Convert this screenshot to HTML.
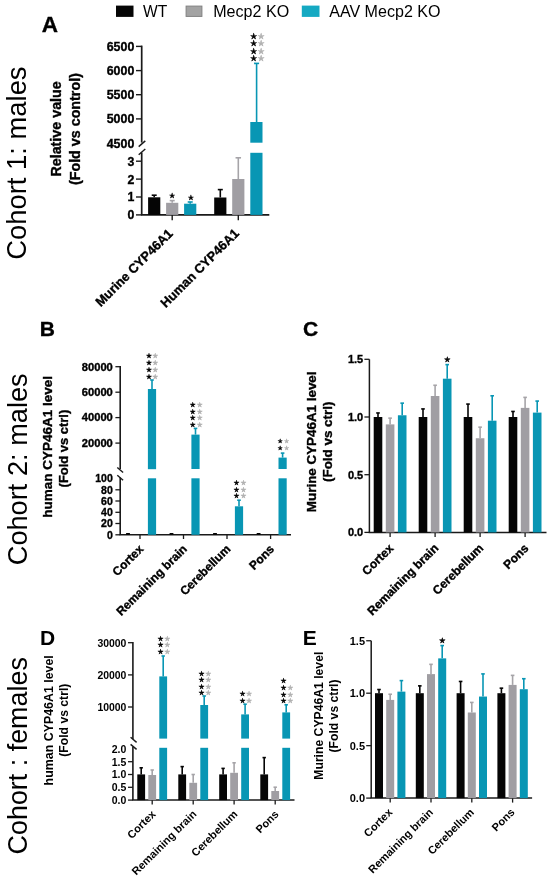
<!DOCTYPE html>
<html><head><meta charset="utf-8"><title>Figure</title>
<style>
html,body{margin:0;padding:0;background:#fff;}
body{width:550px;height:880px;overflow:hidden;}
svg{display:block;font-family:'Liberation Sans', Arial, sans-serif;}
</style></head>
<body>
<svg width="550" height="880" viewBox="0 0 550 880">
<rect width="550" height="880" fill="#fff"/>
<rect x="116.00" y="5.60" width="17.50" height="11.30" fill="#050505"/>
<text x="143.00" y="17.10" font-size="15.6" font-weight="normal" text-anchor="start" fill="#000">WT</text>
<rect x="186.1" y="6.1" width="15.8" height="10.3" fill="#a3a3a3" stroke="#808080" stroke-width="1"/>
<text x="213.20" y="17.10" font-size="15.6" font-weight="normal" text-anchor="start" fill="#000" textLength="76.0" lengthAdjust="spacingAndGlyphs">Mecp2 KO</text>
<rect x="301.80" y="5.60" width="17.70" height="11.30" fill="#15a9c2"/>
<text x="329.20" y="17.10" font-size="15.6" font-weight="normal" text-anchor="start" fill="#000" textLength="111.3" lengthAdjust="spacingAndGlyphs">AAV Mecp2 KO</text>
<text x="0.00" y="0.00" font-size="27.4" font-weight="normal" text-anchor="middle" fill="#000" transform="translate(25.80,163.10) rotate(-90)">Cohort 1: males</text>
<text x="0.00" y="0.00" font-size="27.2" font-weight="normal" text-anchor="middle" fill="#000" transform="translate(26.90,469.30) rotate(-90)">Cohort 2: males</text>
<text x="0.00" y="0.00" font-size="26.9" font-weight="normal" text-anchor="middle" fill="#000" transform="translate(27.40,755.80) rotate(-90)">Cohort : females</text>
<text x="41.80" y="32.00" font-size="22.5" font-weight="bold" text-anchor="start" fill="#000" stroke="#000" stroke-width="0.35">A</text>
<line x1="141.70" y1="45.60" x2="141.70" y2="142.60" stroke="#1a1a1a" stroke-width="1.7"/>
<line x1="136.00" y1="46.40" x2="141.70" y2="46.40" stroke="#1a1a1a" stroke-width="1.4"/>
<text x="134.30" y="50.80" font-size="12.3" font-weight="bold" text-anchor="end" fill="#000" stroke="#000" stroke-width="0.35" textLength="27.6" lengthAdjust="spacingAndGlyphs">6500</text>
<line x1="136.00" y1="70.60" x2="141.70" y2="70.60" stroke="#1a1a1a" stroke-width="1.4"/>
<text x="134.30" y="75.00" font-size="12.3" font-weight="bold" text-anchor="end" fill="#000" stroke="#000" stroke-width="0.35" textLength="27.6" lengthAdjust="spacingAndGlyphs">6000</text>
<line x1="136.00" y1="94.70" x2="141.70" y2="94.70" stroke="#1a1a1a" stroke-width="1.4"/>
<text x="134.30" y="99.10" font-size="12.3" font-weight="bold" text-anchor="end" fill="#000" stroke="#000" stroke-width="0.35" textLength="27.6" lengthAdjust="spacingAndGlyphs">5500</text>
<line x1="136.00" y1="118.90" x2="141.70" y2="118.90" stroke="#1a1a1a" stroke-width="1.4"/>
<text x="134.30" y="123.30" font-size="12.3" font-weight="bold" text-anchor="end" fill="#000" stroke="#000" stroke-width="0.35" textLength="27.6" lengthAdjust="spacingAndGlyphs">5000</text>
<text x="134.30" y="148.00" font-size="12.3" font-weight="bold" text-anchor="end" fill="#000" stroke="#000" stroke-width="0.35" textLength="27.6" lengthAdjust="spacingAndGlyphs">4500</text>
<line x1="138.70" y1="146.60" x2="145.30" y2="140.90" stroke="#1a1a1a" stroke-width="1.4"/>
<line x1="138.70" y1="154.70" x2="145.30" y2="149.00" stroke="#1a1a1a" stroke-width="1.4"/>
<line x1="141.70" y1="152.60" x2="141.70" y2="215.00" stroke="#1a1a1a" stroke-width="1.7"/>
<line x1="136.00" y1="161.20" x2="141.70" y2="161.20" stroke="#1a1a1a" stroke-width="1.4"/>
<text x="134.30" y="165.60" font-size="12.3" font-weight="bold" text-anchor="end" fill="#000" stroke="#000" stroke-width="0.35">3</text>
<line x1="136.00" y1="179.10" x2="141.70" y2="179.10" stroke="#1a1a1a" stroke-width="1.4"/>
<text x="134.30" y="183.50" font-size="12.3" font-weight="bold" text-anchor="end" fill="#000" stroke="#000" stroke-width="0.35">2</text>
<line x1="136.00" y1="197.00" x2="141.70" y2="197.00" stroke="#1a1a1a" stroke-width="1.4"/>
<text x="134.30" y="201.40" font-size="12.3" font-weight="bold" text-anchor="end" fill="#000" stroke="#000" stroke-width="0.35">1</text>
<line x1="136.00" y1="214.90" x2="141.70" y2="214.90" stroke="#1a1a1a" stroke-width="1.4"/>
<text x="134.30" y="219.30" font-size="12.3" font-weight="bold" text-anchor="end" fill="#000" stroke="#000" stroke-width="0.35">0</text>
<line x1="140.90" y1="214.90" x2="269.30" y2="214.90" stroke="#1a1a1a" stroke-width="1.6"/>
<line x1="172.20" y1="214.90" x2="172.20" y2="220.30" stroke="#1a1a1a" stroke-width="1.4"/>
<line x1="238.30" y1="214.90" x2="238.30" y2="220.30" stroke="#1a1a1a" stroke-width="1.4"/>
<rect x="148.10" y="197.30" width="12.20" height="17.60" fill="#050505"/>
<line x1="154.20" y1="197.30" x2="154.20" y2="195.20" stroke="#050505" stroke-width="1.6"/>
<line x1="151.70" y1="195.20" x2="156.70" y2="195.20" stroke="#050505" stroke-width="1.6"/>
<rect x="166.10" y="202.80" width="12.20" height="12.10" fill="#a09ea3"/>
<line x1="172.20" y1="202.80" x2="172.20" y2="200.60" stroke="#a6a4a8" stroke-width="1.6"/>
<line x1="169.70" y1="200.60" x2="174.70" y2="200.60" stroke="#a6a4a8" stroke-width="1.6"/>
<rect x="184.10" y="203.70" width="12.20" height="11.20" fill="#0896b4"/>
<line x1="190.20" y1="203.70" x2="190.20" y2="202.00" stroke="#0896b4" stroke-width="1.6"/>
<line x1="187.70" y1="202.00" x2="192.70" y2="202.00" stroke="#0896b4" stroke-width="1.6"/>
<text x="172.20" y="197.92" font-size="7.03" text-anchor="middle" fill="#050505" stroke="#050505" stroke-width="0.42" stroke-linejoin="round" font-family="DejaVu Sans, sans-serif">&#9733;</text>
<text x="190.90" y="200.22" font-size="7.03" text-anchor="middle" fill="#050505" stroke="#050505" stroke-width="0.42" stroke-linejoin="round" font-family="DejaVu Sans, sans-serif">&#9733;</text>
<rect x="214.20" y="197.50" width="12.20" height="17.40" fill="#050505"/>
<line x1="220.30" y1="197.50" x2="220.30" y2="189.60" stroke="#050505" stroke-width="1.6"/>
<line x1="217.80" y1="189.60" x2="222.80" y2="189.60" stroke="#050505" stroke-width="1.6"/>
<rect x="232.20" y="179.00" width="12.20" height="35.90" fill="#a09ea3"/>
<line x1="238.30" y1="179.00" x2="238.30" y2="157.80" stroke="#a6a4a8" stroke-width="1.6"/>
<line x1="235.55" y1="157.80" x2="241.05" y2="157.80" stroke="#a6a4a8" stroke-width="1.6"/>
<rect x="250.30" y="152.80" width="12.20" height="62.10" fill="#0896b4"/>
<rect x="250.30" y="122.00" width="12.20" height="20.70" fill="#0896b4"/>
<line x1="256.60" y1="122.00" x2="256.60" y2="63.40" stroke="#0896b4" stroke-width="1.6"/>
<line x1="254.10" y1="63.40" x2="259.10" y2="63.40" stroke="#0896b4" stroke-width="1.6"/>
<text x="261.20" y="38.91" font-size="8.14" text-anchor="middle" fill="#b2b2b2" stroke="#b2b2b2" stroke-width="0.49" stroke-linejoin="round" font-family="DejaVu Sans, sans-serif">&#9733;</text>
<text x="253.70" y="38.91" font-size="8.14" text-anchor="middle" fill="#050505" stroke="#050505" stroke-width="0.49" stroke-linejoin="round" font-family="DejaVu Sans, sans-serif">&#9733;</text>
<text x="261.20" y="46.41" font-size="8.14" text-anchor="middle" fill="#b2b2b2" stroke="#b2b2b2" stroke-width="0.49" stroke-linejoin="round" font-family="DejaVu Sans, sans-serif">&#9733;</text>
<text x="253.70" y="46.41" font-size="8.14" text-anchor="middle" fill="#050505" stroke="#050505" stroke-width="0.49" stroke-linejoin="round" font-family="DejaVu Sans, sans-serif">&#9733;</text>
<text x="261.20" y="53.91" font-size="8.14" text-anchor="middle" fill="#b2b2b2" stroke="#b2b2b2" stroke-width="0.49" stroke-linejoin="round" font-family="DejaVu Sans, sans-serif">&#9733;</text>
<text x="253.70" y="53.91" font-size="8.14" text-anchor="middle" fill="#050505" stroke="#050505" stroke-width="0.49" stroke-linejoin="round" font-family="DejaVu Sans, sans-serif">&#9733;</text>
<text x="261.20" y="61.31" font-size="8.14" text-anchor="middle" fill="#b2b2b2" stroke="#b2b2b2" stroke-width="0.49" stroke-linejoin="round" font-family="DejaVu Sans, sans-serif">&#9733;</text>
<text x="253.70" y="61.31" font-size="8.14" text-anchor="middle" fill="#050505" stroke="#050505" stroke-width="0.49" stroke-linejoin="round" font-family="DejaVu Sans, sans-serif">&#9733;</text>
<text x="0.00" y="0.00" font-size="14.3" font-weight="bold" text-anchor="middle" fill="#000" stroke="#000" stroke-width="0.35" transform="translate(61.20,128.90) rotate(-90)">Relative value</text>
<text x="0.00" y="0.00" font-size="14.3" font-weight="bold" text-anchor="middle" fill="#000" stroke="#000" stroke-width="0.35" transform="translate(80.00,129.10) rotate(-90)">(Fold vs control)</text>
<text x="0.00" y="0.00" font-size="12.9" font-weight="bold" text-anchor="end" fill="#000" stroke="#000" stroke-width="0.35" transform="translate(173.70,234.30) rotate(-45)">Murine CYP46A1</text>
<text x="0.00" y="0.00" font-size="12.9" font-weight="bold" text-anchor="end" fill="#000" stroke="#000" stroke-width="0.35" transform="translate(239.80,234.30) rotate(-45)">Human CYP46A1</text>
<text x="39.80" y="336.00" font-size="21" font-weight="bold" text-anchor="start" fill="#000" stroke="#000" stroke-width="0.35">B</text>
<line x1="120.20" y1="365.90" x2="120.20" y2="469.00" stroke="#1a1a1a" stroke-width="1.6"/>
<line x1="115.40" y1="366.70" x2="120.20" y2="366.70" stroke="#1a1a1a" stroke-width="1.3"/>
<text x="112.80" y="370.50" font-size="10.5" font-weight="bold" text-anchor="end" fill="#000" stroke="#000" stroke-width="0.35" textLength="31" lengthAdjust="spacingAndGlyphs">80000</text>
<line x1="115.40" y1="392.20" x2="120.20" y2="392.20" stroke="#1a1a1a" stroke-width="1.3"/>
<text x="112.80" y="396.00" font-size="10.5" font-weight="bold" text-anchor="end" fill="#000" stroke="#000" stroke-width="0.35" textLength="31" lengthAdjust="spacingAndGlyphs">60000</text>
<line x1="115.40" y1="417.60" x2="120.20" y2="417.60" stroke="#1a1a1a" stroke-width="1.3"/>
<text x="112.80" y="421.40" font-size="10.5" font-weight="bold" text-anchor="end" fill="#000" stroke="#000" stroke-width="0.35" textLength="31" lengthAdjust="spacingAndGlyphs">40000</text>
<line x1="115.40" y1="443.10" x2="120.20" y2="443.10" stroke="#1a1a1a" stroke-width="1.3"/>
<text x="112.80" y="446.90" font-size="10.5" font-weight="bold" text-anchor="end" fill="#000" stroke="#000" stroke-width="0.35" textLength="31" lengthAdjust="spacingAndGlyphs">20000</text>
<line x1="117.30" y1="467.40" x2="123.10" y2="472.60" stroke="#1a1a1a" stroke-width="1.4"/>
<line x1="117.30" y1="475.20" x2="123.10" y2="480.20" stroke="#1a1a1a" stroke-width="1.4"/>
<line x1="120.20" y1="477.60" x2="120.20" y2="534.90" stroke="#1a1a1a" stroke-width="1.6"/>
<text x="112.80" y="482.30" font-size="10.5" font-weight="bold" text-anchor="end" fill="#000" stroke="#000" stroke-width="0.35">100</text>
<line x1="115.40" y1="489.80" x2="120.20" y2="489.80" stroke="#1a1a1a" stroke-width="1.3"/>
<text x="112.80" y="493.60" font-size="10.5" font-weight="bold" text-anchor="end" fill="#000" stroke="#000" stroke-width="0.35">80</text>
<line x1="115.40" y1="501.00" x2="120.20" y2="501.00" stroke="#1a1a1a" stroke-width="1.3"/>
<text x="112.80" y="504.80" font-size="10.5" font-weight="bold" text-anchor="end" fill="#000" stroke="#000" stroke-width="0.35">60</text>
<line x1="115.40" y1="512.30" x2="120.20" y2="512.30" stroke="#1a1a1a" stroke-width="1.3"/>
<text x="112.80" y="516.10" font-size="10.5" font-weight="bold" text-anchor="end" fill="#000" stroke="#000" stroke-width="0.35">40</text>
<line x1="115.40" y1="523.50" x2="120.20" y2="523.50" stroke="#1a1a1a" stroke-width="1.3"/>
<text x="112.80" y="527.30" font-size="10.5" font-weight="bold" text-anchor="end" fill="#000" stroke="#000" stroke-width="0.35">20</text>
<line x1="115.40" y1="534.80" x2="120.20" y2="534.80" stroke="#1a1a1a" stroke-width="1.3"/>
<text x="112.80" y="538.60" font-size="10.5" font-weight="bold" text-anchor="end" fill="#000" stroke="#000" stroke-width="0.35">0</text>
<line x1="119.50" y1="534.80" x2="291.00" y2="534.80" stroke="#1a1a1a" stroke-width="1.5"/>
<line x1="140.00" y1="534.80" x2="140.00" y2="539.00" stroke="#1a1a1a" stroke-width="1.3"/>
<line x1="183.50" y1="534.80" x2="183.50" y2="539.00" stroke="#1a1a1a" stroke-width="1.3"/>
<line x1="227.00" y1="534.80" x2="227.00" y2="539.00" stroke="#1a1a1a" stroke-width="1.3"/>
<line x1="270.60" y1="534.80" x2="270.60" y2="539.00" stroke="#1a1a1a" stroke-width="1.3"/>
<rect x="126.10" y="533.00" width="3.80" height="1.80" fill="#050505"/>
<rect x="169.60" y="533.00" width="3.80" height="1.80" fill="#050505"/>
<rect x="213.10" y="533.00" width="3.80" height="1.80" fill="#050505"/>
<rect x="256.70" y="533.00" width="3.80" height="1.80" fill="#050505"/>
<rect x="147.90" y="478.30" width="8.20" height="56.50" fill="#0896b4"/>
<rect x="147.90" y="389.00" width="8.20" height="80.20" fill="#0896b4"/>
<line x1="152.00" y1="389.00" x2="152.00" y2="380.00" stroke="#0896b4" stroke-width="1.6"/>
<line x1="150.20" y1="380.00" x2="153.80" y2="380.00" stroke="#0896b4" stroke-width="1.6"/>
<text x="155.20" y="358.28" font-size="6.66" text-anchor="middle" fill="#b2b2b2" stroke="#b2b2b2" stroke-width="0.40" stroke-linejoin="round" font-family="DejaVu Sans, sans-serif">&#9733;</text>
<text x="149.10" y="358.28" font-size="6.66" text-anchor="middle" fill="#050505" stroke="#050505" stroke-width="0.40" stroke-linejoin="round" font-family="DejaVu Sans, sans-serif">&#9733;</text>
<text x="155.20" y="365.18" font-size="6.66" text-anchor="middle" fill="#b2b2b2" stroke="#b2b2b2" stroke-width="0.40" stroke-linejoin="round" font-family="DejaVu Sans, sans-serif">&#9733;</text>
<text x="149.10" y="365.18" font-size="6.66" text-anchor="middle" fill="#050505" stroke="#050505" stroke-width="0.40" stroke-linejoin="round" font-family="DejaVu Sans, sans-serif">&#9733;</text>
<text x="155.20" y="372.18" font-size="6.66" text-anchor="middle" fill="#b2b2b2" stroke="#b2b2b2" stroke-width="0.40" stroke-linejoin="round" font-family="DejaVu Sans, sans-serif">&#9733;</text>
<text x="149.10" y="372.18" font-size="6.66" text-anchor="middle" fill="#050505" stroke="#050505" stroke-width="0.40" stroke-linejoin="round" font-family="DejaVu Sans, sans-serif">&#9733;</text>
<text x="155.20" y="379.08" font-size="6.66" text-anchor="middle" fill="#b2b2b2" stroke="#b2b2b2" stroke-width="0.40" stroke-linejoin="round" font-family="DejaVu Sans, sans-serif">&#9733;</text>
<text x="149.10" y="379.08" font-size="6.66" text-anchor="middle" fill="#050505" stroke="#050505" stroke-width="0.40" stroke-linejoin="round" font-family="DejaVu Sans, sans-serif">&#9733;</text>
<rect x="191.40" y="478.30" width="8.20" height="56.50" fill="#0896b4"/>
<rect x="191.40" y="434.60" width="8.20" height="34.40" fill="#0896b4"/>
<line x1="195.50" y1="434.60" x2="195.50" y2="428.40" stroke="#0896b4" stroke-width="1.6"/>
<line x1="193.70" y1="428.40" x2="197.30" y2="428.40" stroke="#0896b4" stroke-width="1.6"/>
<text x="199.80" y="406.68" font-size="6.66" text-anchor="middle" fill="#b2b2b2" stroke="#b2b2b2" stroke-width="0.40" stroke-linejoin="round" font-family="DejaVu Sans, sans-serif">&#9733;</text>
<text x="192.80" y="406.68" font-size="6.66" text-anchor="middle" fill="#050505" stroke="#050505" stroke-width="0.40" stroke-linejoin="round" font-family="DejaVu Sans, sans-serif">&#9733;</text>
<text x="199.80" y="413.58" font-size="6.66" text-anchor="middle" fill="#b2b2b2" stroke="#b2b2b2" stroke-width="0.40" stroke-linejoin="round" font-family="DejaVu Sans, sans-serif">&#9733;</text>
<text x="192.80" y="413.58" font-size="6.66" text-anchor="middle" fill="#050505" stroke="#050505" stroke-width="0.40" stroke-linejoin="round" font-family="DejaVu Sans, sans-serif">&#9733;</text>
<text x="199.80" y="420.18" font-size="6.66" text-anchor="middle" fill="#b2b2b2" stroke="#b2b2b2" stroke-width="0.40" stroke-linejoin="round" font-family="DejaVu Sans, sans-serif">&#9733;</text>
<text x="192.80" y="420.18" font-size="6.66" text-anchor="middle" fill="#050505" stroke="#050505" stroke-width="0.40" stroke-linejoin="round" font-family="DejaVu Sans, sans-serif">&#9733;</text>
<text x="199.80" y="426.98" font-size="6.66" text-anchor="middle" fill="#b2b2b2" stroke="#b2b2b2" stroke-width="0.40" stroke-linejoin="round" font-family="DejaVu Sans, sans-serif">&#9733;</text>
<text x="192.80" y="426.98" font-size="6.66" text-anchor="middle" fill="#050505" stroke="#050505" stroke-width="0.40" stroke-linejoin="round" font-family="DejaVu Sans, sans-serif">&#9733;</text>
<rect x="234.90" y="506.30" width="8.20" height="28.50" fill="#0896b4"/>
<line x1="239.00" y1="506.30" x2="239.00" y2="500.20" stroke="#0896b4" stroke-width="1.6"/>
<line x1="237.20" y1="500.20" x2="240.80" y2="500.20" stroke="#0896b4" stroke-width="1.6"/>
<text x="243.60" y="484.98" font-size="6.66" text-anchor="middle" fill="#b2b2b2" stroke="#b2b2b2" stroke-width="0.40" stroke-linejoin="round" font-family="DejaVu Sans, sans-serif">&#9733;</text>
<text x="236.60" y="484.98" font-size="6.66" text-anchor="middle" fill="#050505" stroke="#050505" stroke-width="0.40" stroke-linejoin="round" font-family="DejaVu Sans, sans-serif">&#9733;</text>
<text x="243.60" y="491.58" font-size="6.66" text-anchor="middle" fill="#b2b2b2" stroke="#b2b2b2" stroke-width="0.40" stroke-linejoin="round" font-family="DejaVu Sans, sans-serif">&#9733;</text>
<text x="236.60" y="491.58" font-size="6.66" text-anchor="middle" fill="#050505" stroke="#050505" stroke-width="0.40" stroke-linejoin="round" font-family="DejaVu Sans, sans-serif">&#9733;</text>
<text x="243.60" y="498.38" font-size="6.66" text-anchor="middle" fill="#b2b2b2" stroke="#b2b2b2" stroke-width="0.40" stroke-linejoin="round" font-family="DejaVu Sans, sans-serif">&#9733;</text>
<text x="236.60" y="498.38" font-size="6.66" text-anchor="middle" fill="#050505" stroke="#050505" stroke-width="0.40" stroke-linejoin="round" font-family="DejaVu Sans, sans-serif">&#9733;</text>
<rect x="278.50" y="478.30" width="8.20" height="56.50" fill="#0896b4"/>
<rect x="278.50" y="457.60" width="8.20" height="11.40" fill="#0896b4"/>
<line x1="282.60" y1="457.60" x2="282.60" y2="453.10" stroke="#0896b4" stroke-width="1.6"/>
<line x1="280.80" y1="453.10" x2="284.40" y2="453.10" stroke="#0896b4" stroke-width="1.6"/>
<text x="286.60" y="443.12" font-size="5.92" text-anchor="middle" fill="#b2b2b2" stroke="#b2b2b2" stroke-width="0.36" stroke-linejoin="round" font-family="DejaVu Sans, sans-serif">&#9733;</text>
<text x="280.20" y="443.12" font-size="5.92" text-anchor="middle" fill="#050505" stroke="#050505" stroke-width="0.36" stroke-linejoin="round" font-family="DejaVu Sans, sans-serif">&#9733;</text>
<text x="286.60" y="450.42" font-size="5.92" text-anchor="middle" fill="#b2b2b2" stroke="#b2b2b2" stroke-width="0.36" stroke-linejoin="round" font-family="DejaVu Sans, sans-serif">&#9733;</text>
<text x="280.20" y="450.42" font-size="5.92" text-anchor="middle" fill="#050505" stroke="#050505" stroke-width="0.36" stroke-linejoin="round" font-family="DejaVu Sans, sans-serif">&#9733;</text>
<text x="0.00" y="0.00" font-size="13.5" font-weight="bold" text-anchor="middle" fill="#000" stroke="#000" stroke-width="0.35" transform="translate(51.90,446.90) rotate(-90)">human CYP46A1 level</text>
<text x="0.00" y="0.00" font-size="12.95" font-weight="bold" text-anchor="middle" fill="#000" stroke="#000" stroke-width="0.35" transform="translate(68.30,448.60) rotate(-90)">(Fold vs ctrl)</text>
<text x="0.00" y="0.00" font-size="12.0" font-weight="bold" text-anchor="end" fill="#000" stroke="#000" stroke-width="0.35" transform="translate(144.20,549.80) rotate(-45)">Cortex</text>
<text x="0.00" y="0.00" font-size="12.0" font-weight="bold" text-anchor="end" fill="#000" stroke="#000" stroke-width="0.35" transform="translate(187.70,549.80) rotate(-45)">Remaining brain</text>
<text x="0.00" y="0.00" font-size="12.0" font-weight="bold" text-anchor="end" fill="#000" stroke="#000" stroke-width="0.35" transform="translate(231.20,549.80) rotate(-45)">Cerebellum</text>
<text x="0.00" y="0.00" font-size="12.0" font-weight="bold" text-anchor="end" fill="#000" stroke="#000" stroke-width="0.35" transform="translate(274.80,549.80) rotate(-45)">Pons</text>
<text x="302.90" y="336.00" font-size="21" font-weight="bold" text-anchor="start" fill="#000" stroke="#000" stroke-width="0.35">C</text>
<line x1="369.40" y1="359.30" x2="369.40" y2="532.40" stroke="#1a1a1a" stroke-width="1.5"/>
<line x1="364.40" y1="532.40" x2="369.40" y2="532.40" stroke="#1a1a1a" stroke-width="1.3"/>
<text x="363.20" y="536.30" font-size="11.0" font-weight="bold" text-anchor="end" fill="#000" stroke="#000" stroke-width="0.35">0.0</text>
<line x1="364.40" y1="474.70" x2="369.40" y2="474.70" stroke="#1a1a1a" stroke-width="1.3"/>
<text x="363.20" y="478.60" font-size="11.0" font-weight="bold" text-anchor="end" fill="#000" stroke="#000" stroke-width="0.35">0.5</text>
<line x1="364.40" y1="417.00" x2="369.40" y2="417.00" stroke="#1a1a1a" stroke-width="1.3"/>
<text x="363.20" y="420.90" font-size="11.0" font-weight="bold" text-anchor="end" fill="#000" stroke="#000" stroke-width="0.35">1.0</text>
<line x1="364.40" y1="359.30" x2="369.40" y2="359.30" stroke="#1a1a1a" stroke-width="1.3"/>
<text x="363.20" y="363.20" font-size="11.0" font-weight="bold" text-anchor="end" fill="#000" stroke="#000" stroke-width="0.35">1.5</text>
<line x1="368.70" y1="532.40" x2="546.50" y2="532.40" stroke="#1a1a1a" stroke-width="1.5"/>
<line x1="390.10" y1="532.40" x2="390.10" y2="536.90" stroke="#1a1a1a" stroke-width="1.3"/>
<rect x="373.70" y="417.00" width="8.60" height="115.40" fill="#050505"/>
<line x1="378.00" y1="417.00" x2="378.00" y2="412.96" stroke="#050505" stroke-width="1.6"/>
<line x1="376.20" y1="412.96" x2="379.80" y2="412.96" stroke="#050505" stroke-width="1.6"/>
<rect x="385.80" y="424.39" width="8.60" height="108.01" fill="#a09ea3"/>
<line x1="390.10" y1="424.39" x2="390.10" y2="418.15" stroke="#a6a4a8" stroke-width="1.6"/>
<line x1="388.30" y1="418.15" x2="391.90" y2="418.15" stroke="#a6a4a8" stroke-width="1.6"/>
<rect x="397.90" y="415.27" width="8.60" height="117.13" fill="#0896b4"/>
<line x1="402.20" y1="415.27" x2="402.20" y2="403.15" stroke="#0896b4" stroke-width="1.6"/>
<line x1="400.40" y1="403.15" x2="404.00" y2="403.15" stroke="#0896b4" stroke-width="1.6"/>
<line x1="435.10" y1="532.40" x2="435.10" y2="536.90" stroke="#1a1a1a" stroke-width="1.3"/>
<rect x="418.70" y="417.00" width="8.60" height="115.40" fill="#050505"/>
<line x1="423.00" y1="417.00" x2="423.00" y2="408.92" stroke="#050505" stroke-width="1.6"/>
<line x1="421.20" y1="408.92" x2="424.80" y2="408.92" stroke="#050505" stroke-width="1.6"/>
<rect x="430.80" y="396.00" width="8.60" height="136.40" fill="#a09ea3"/>
<line x1="435.10" y1="396.00" x2="435.10" y2="385.26" stroke="#a6a4a8" stroke-width="1.6"/>
<line x1="433.30" y1="385.26" x2="436.90" y2="385.26" stroke="#a6a4a8" stroke-width="1.6"/>
<rect x="442.90" y="378.69" width="8.60" height="153.71" fill="#0896b4"/>
<line x1="447.20" y1="378.69" x2="447.20" y2="364.61" stroke="#0896b4" stroke-width="1.6"/>
<line x1="445.40" y1="364.61" x2="449.00" y2="364.61" stroke="#0896b4" stroke-width="1.6"/>
<line x1="480.10" y1="532.40" x2="480.10" y2="536.90" stroke="#1a1a1a" stroke-width="1.3"/>
<rect x="463.70" y="417.00" width="8.60" height="115.40" fill="#050505"/>
<line x1="468.00" y1="417.00" x2="468.00" y2="404.08" stroke="#050505" stroke-width="1.6"/>
<line x1="466.20" y1="404.08" x2="469.80" y2="404.08" stroke="#050505" stroke-width="1.6"/>
<rect x="475.80" y="438.23" width="8.60" height="94.17" fill="#a09ea3"/>
<line x1="480.10" y1="438.23" x2="480.10" y2="427.16" stroke="#a6a4a8" stroke-width="1.6"/>
<line x1="478.30" y1="427.16" x2="481.90" y2="427.16" stroke="#a6a4a8" stroke-width="1.6"/>
<rect x="487.90" y="420.69" width="8.60" height="111.71" fill="#0896b4"/>
<line x1="492.20" y1="420.69" x2="492.20" y2="395.77" stroke="#0896b4" stroke-width="1.6"/>
<line x1="490.40" y1="395.77" x2="494.00" y2="395.77" stroke="#0896b4" stroke-width="1.6"/>
<line x1="525.10" y1="532.40" x2="525.10" y2="536.90" stroke="#1a1a1a" stroke-width="1.3"/>
<rect x="508.70" y="417.00" width="8.60" height="115.40" fill="#050505"/>
<line x1="513.00" y1="417.00" x2="513.00" y2="411.46" stroke="#050505" stroke-width="1.6"/>
<line x1="511.20" y1="411.46" x2="514.80" y2="411.46" stroke="#050505" stroke-width="1.6"/>
<rect x="520.80" y="407.88" width="8.60" height="124.52" fill="#a09ea3"/>
<line x1="525.10" y1="407.88" x2="525.10" y2="397.38" stroke="#a6a4a8" stroke-width="1.6"/>
<line x1="523.30" y1="397.38" x2="526.90" y2="397.38" stroke="#a6a4a8" stroke-width="1.6"/>
<rect x="532.90" y="412.61" width="8.60" height="119.79" fill="#0896b4"/>
<line x1="537.20" y1="412.61" x2="537.20" y2="401.07" stroke="#0896b4" stroke-width="1.6"/>
<line x1="535.40" y1="401.07" x2="539.00" y2="401.07" stroke="#0896b4" stroke-width="1.6"/>
<text x="447.20" y="361.60" font-size="7.40" text-anchor="middle" fill="#050505" stroke="#050505" stroke-width="0.44" stroke-linejoin="round" font-family="DejaVu Sans, sans-serif">&#9733;</text>
<text x="0.00" y="0.00" font-size="13.4" font-weight="bold" text-anchor="middle" fill="#000" stroke="#000" stroke-width="0.35" transform="translate(316.40,441.80) rotate(-90)">Murine CYP46A1 level</text>
<text x="0.00" y="0.00" font-size="13.4" font-weight="bold" text-anchor="middle" fill="#000" stroke="#000" stroke-width="0.35" transform="translate(332.30,441.80) rotate(-90)">(Fold vs ctrl)</text>
<text x="0.00" y="0.00" font-size="12.1" font-weight="bold" text-anchor="end" fill="#000" stroke="#000" stroke-width="0.35" transform="translate(394.20,548.90) rotate(-45)">Cortex</text>
<text x="0.00" y="0.00" font-size="12.1" font-weight="bold" text-anchor="end" fill="#000" stroke="#000" stroke-width="0.35" transform="translate(439.20,548.90) rotate(-45)">Remaining brain</text>
<text x="0.00" y="0.00" font-size="12.1" font-weight="bold" text-anchor="end" fill="#000" stroke="#000" stroke-width="0.35" transform="translate(484.20,548.90) rotate(-45)">Cerebellum</text>
<text x="0.00" y="0.00" font-size="12.1" font-weight="bold" text-anchor="end" fill="#000" stroke="#000" stroke-width="0.35" transform="translate(529.20,548.90) rotate(-45)">Pons</text>
<text x="302.80" y="644.50" font-size="21" font-weight="bold" text-anchor="start" fill="#000">E</text>
<line x1="371.20" y1="640.75" x2="371.20" y2="798.10" stroke="#1a1a1a" stroke-width="1.5"/>
<line x1="366.20" y1="798.10" x2="371.20" y2="798.10" stroke="#1a1a1a" stroke-width="1.3"/>
<text x="365.00" y="802.00" font-size="11.0" font-weight="bold" text-anchor="end" fill="#000">0.0</text>
<line x1="366.20" y1="745.65" x2="371.20" y2="745.65" stroke="#1a1a1a" stroke-width="1.3"/>
<text x="365.00" y="749.55" font-size="11.0" font-weight="bold" text-anchor="end" fill="#000">0.5</text>
<line x1="366.20" y1="693.20" x2="371.20" y2="693.20" stroke="#1a1a1a" stroke-width="1.3"/>
<text x="365.00" y="697.10" font-size="11.0" font-weight="bold" text-anchor="end" fill="#000">1.0</text>
<line x1="366.20" y1="640.75" x2="371.20" y2="640.75" stroke="#1a1a1a" stroke-width="1.3"/>
<text x="365.00" y="644.65" font-size="11.0" font-weight="bold" text-anchor="end" fill="#000">1.5</text>
<line x1="370.50" y1="798.10" x2="532.10" y2="798.10" stroke="#1a1a1a" stroke-width="1.5"/>
<line x1="390.20" y1="798.10" x2="390.20" y2="802.60" stroke="#1a1a1a" stroke-width="1.3"/>
<rect x="375.00" y="693.20" width="8.00" height="104.90" fill="#050505"/>
<line x1="379.00" y1="693.20" x2="379.00" y2="689.53" stroke="#050505" stroke-width="1.6"/>
<line x1="377.20" y1="689.53" x2="380.80" y2="689.53" stroke="#050505" stroke-width="1.6"/>
<rect x="386.20" y="699.91" width="8.00" height="98.19" fill="#a09ea3"/>
<line x1="390.20" y1="699.91" x2="390.20" y2="694.25" stroke="#a6a4a8" stroke-width="1.6"/>
<line x1="388.40" y1="694.25" x2="392.00" y2="694.25" stroke="#a6a4a8" stroke-width="1.6"/>
<rect x="397.40" y="691.63" width="8.00" height="106.47" fill="#0896b4"/>
<line x1="401.40" y1="691.63" x2="401.40" y2="680.61" stroke="#0896b4" stroke-width="1.6"/>
<line x1="399.60" y1="680.61" x2="403.20" y2="680.61" stroke="#0896b4" stroke-width="1.6"/>
<line x1="431.00" y1="798.10" x2="431.00" y2="802.60" stroke="#1a1a1a" stroke-width="1.3"/>
<rect x="415.80" y="693.20" width="8.00" height="104.90" fill="#050505"/>
<line x1="419.80" y1="693.20" x2="419.80" y2="685.86" stroke="#050505" stroke-width="1.6"/>
<line x1="418.00" y1="685.86" x2="421.60" y2="685.86" stroke="#050505" stroke-width="1.6"/>
<rect x="427.00" y="674.11" width="8.00" height="123.99" fill="#a09ea3"/>
<line x1="431.00" y1="674.11" x2="431.00" y2="664.35" stroke="#a6a4a8" stroke-width="1.6"/>
<line x1="429.20" y1="664.35" x2="432.80" y2="664.35" stroke="#a6a4a8" stroke-width="1.6"/>
<rect x="438.20" y="658.37" width="8.00" height="139.73" fill="#0896b4"/>
<line x1="442.20" y1="658.37" x2="442.20" y2="645.58" stroke="#0896b4" stroke-width="1.6"/>
<line x1="440.40" y1="645.58" x2="444.00" y2="645.58" stroke="#0896b4" stroke-width="1.6"/>
<line x1="471.80" y1="798.10" x2="471.80" y2="802.60" stroke="#1a1a1a" stroke-width="1.3"/>
<rect x="456.60" y="693.20" width="8.00" height="104.90" fill="#050505"/>
<line x1="460.60" y1="693.20" x2="460.60" y2="681.45" stroke="#050505" stroke-width="1.6"/>
<line x1="458.80" y1="681.45" x2="462.40" y2="681.45" stroke="#050505" stroke-width="1.6"/>
<rect x="467.80" y="712.50" width="8.00" height="85.60" fill="#a09ea3"/>
<line x1="471.80" y1="712.50" x2="471.80" y2="702.43" stroke="#a6a4a8" stroke-width="1.6"/>
<line x1="470.00" y1="702.43" x2="473.60" y2="702.43" stroke="#a6a4a8" stroke-width="1.6"/>
<rect x="479.00" y="696.56" width="8.00" height="101.54" fill="#0896b4"/>
<line x1="483.00" y1="696.56" x2="483.00" y2="673.90" stroke="#0896b4" stroke-width="1.6"/>
<line x1="481.20" y1="673.90" x2="484.80" y2="673.90" stroke="#0896b4" stroke-width="1.6"/>
<line x1="512.60" y1="798.10" x2="512.60" y2="802.60" stroke="#1a1a1a" stroke-width="1.3"/>
<rect x="497.40" y="693.20" width="8.00" height="104.90" fill="#050505"/>
<line x1="501.40" y1="693.20" x2="501.40" y2="688.16" stroke="#050505" stroke-width="1.6"/>
<line x1="499.60" y1="688.16" x2="503.20" y2="688.16" stroke="#050505" stroke-width="1.6"/>
<rect x="508.60" y="684.91" width="8.00" height="113.19" fill="#a09ea3"/>
<line x1="512.60" y1="684.91" x2="512.60" y2="675.37" stroke="#a6a4a8" stroke-width="1.6"/>
<line x1="510.80" y1="675.37" x2="514.40" y2="675.37" stroke="#a6a4a8" stroke-width="1.6"/>
<rect x="519.80" y="689.21" width="8.00" height="108.89" fill="#0896b4"/>
<line x1="523.80" y1="689.21" x2="523.80" y2="678.72" stroke="#0896b4" stroke-width="1.6"/>
<line x1="522.00" y1="678.72" x2="525.60" y2="678.72" stroke="#0896b4" stroke-width="1.6"/>
<text x="442.20" y="643.40" font-size="7.40" text-anchor="middle" fill="#050505" stroke="#050505" stroke-width="0.44" stroke-linejoin="round" font-family="DejaVu Sans, sans-serif">&#9733;</text>
<text x="0.00" y="0.00" font-size="12.2" font-weight="bold" text-anchor="middle" fill="#000" transform="translate(322.80,715.70) rotate(-90)">Murine CYP46A1 level</text>
<text x="0.00" y="0.00" font-size="12.2" font-weight="bold" text-anchor="middle" fill="#000" transform="translate(338.00,716.00) rotate(-90)">(Fold vs ctrl)</text>
<text x="0.00" y="0.00" font-size="11.0" font-weight="bold" text-anchor="end" fill="#000" transform="translate(393.00,813.00) rotate(-45)">Cortex</text>
<text x="0.00" y="0.00" font-size="11.0" font-weight="bold" text-anchor="end" fill="#000" transform="translate(433.80,813.00) rotate(-45)">Remaining brain</text>
<text x="0.00" y="0.00" font-size="11.0" font-weight="bold" text-anchor="end" fill="#000" transform="translate(474.60,813.00) rotate(-45)">Cerebellum</text>
<text x="0.00" y="0.00" font-size="11.0" font-weight="bold" text-anchor="end" fill="#000" transform="translate(515.40,813.00) rotate(-45)">Pons</text>
<text x="40.00" y="644.50" font-size="21" font-weight="bold" text-anchor="start" fill="#000">D</text>
<line x1="132.90" y1="641.90" x2="132.90" y2="739.00" stroke="#1a1a1a" stroke-width="1.6"/>
<line x1="128.00" y1="642.70" x2="132.90" y2="642.70" stroke="#1a1a1a" stroke-width="1.3"/>
<text x="126.40" y="646.50" font-size="10.5" font-weight="bold" text-anchor="end" fill="#000" textLength="29" lengthAdjust="spacingAndGlyphs">30000</text>
<line x1="128.00" y1="674.90" x2="132.90" y2="674.90" stroke="#1a1a1a" stroke-width="1.3"/>
<text x="126.40" y="678.70" font-size="10.5" font-weight="bold" text-anchor="end" fill="#000" textLength="29" lengthAdjust="spacingAndGlyphs">20000</text>
<line x1="128.00" y1="707.00" x2="132.90" y2="707.00" stroke="#1a1a1a" stroke-width="1.3"/>
<text x="126.40" y="710.80" font-size="10.5" font-weight="bold" text-anchor="end" fill="#000" textLength="29" lengthAdjust="spacingAndGlyphs">10000</text>
<line x1="130.60" y1="737.20" x2="136.60" y2="742.40" stroke="#1a1a1a" stroke-width="1.4"/>
<line x1="130.60" y1="744.40" x2="136.60" y2="749.40" stroke="#1a1a1a" stroke-width="1.4"/>
<line x1="132.90" y1="746.80" x2="132.90" y2="800.10" stroke="#1a1a1a" stroke-width="1.6"/>
<text x="126.40" y="752.70" font-size="10.5" font-weight="bold" text-anchor="end" fill="#000">2.0</text>
<line x1="128.00" y1="761.70" x2="132.90" y2="761.70" stroke="#1a1a1a" stroke-width="1.3"/>
<text x="126.40" y="765.50" font-size="10.5" font-weight="bold" text-anchor="end" fill="#000">1.5</text>
<line x1="128.00" y1="774.50" x2="132.90" y2="774.50" stroke="#1a1a1a" stroke-width="1.3"/>
<text x="126.40" y="778.30" font-size="10.5" font-weight="bold" text-anchor="end" fill="#000">1.0</text>
<line x1="128.00" y1="787.30" x2="132.90" y2="787.30" stroke="#1a1a1a" stroke-width="1.3"/>
<text x="126.40" y="791.10" font-size="10.5" font-weight="bold" text-anchor="end" fill="#000">0.5</text>
<line x1="128.00" y1="800.10" x2="132.90" y2="800.10" stroke="#1a1a1a" stroke-width="1.3"/>
<text x="126.40" y="803.90" font-size="10.5" font-weight="bold" text-anchor="end" fill="#000">0.0</text>
<line x1="132.20" y1="800.10" x2="294.50" y2="800.10" stroke="#1a1a1a" stroke-width="1.5"/>
<line x1="152.20" y1="800.10" x2="152.20" y2="804.50" stroke="#1a1a1a" stroke-width="1.3"/>
<line x1="193.20" y1="800.10" x2="193.20" y2="804.50" stroke="#1a1a1a" stroke-width="1.3"/>
<line x1="234.10" y1="800.10" x2="234.10" y2="804.50" stroke="#1a1a1a" stroke-width="1.3"/>
<line x1="275.20" y1="800.10" x2="275.20" y2="804.50" stroke="#1a1a1a" stroke-width="1.3"/>
<rect x="137.30" y="774.40" width="7.80" height="25.70" fill="#050505"/>
<line x1="141.20" y1="774.40" x2="141.20" y2="767.80" stroke="#050505" stroke-width="1.6"/>
<line x1="139.50" y1="767.80" x2="142.90" y2="767.80" stroke="#050505" stroke-width="1.6"/>
<rect x="148.30" y="775.00" width="7.80" height="25.10" fill="#a09ea3"/>
<line x1="152.20" y1="775.00" x2="152.20" y2="770.00" stroke="#a6a4a8" stroke-width="1.6"/>
<line x1="150.50" y1="770.00" x2="153.90" y2="770.00" stroke="#a6a4a8" stroke-width="1.6"/>
<rect x="178.30" y="774.40" width="7.80" height="25.70" fill="#050505"/>
<line x1="182.20" y1="774.40" x2="182.20" y2="766.60" stroke="#050505" stroke-width="1.6"/>
<line x1="180.50" y1="766.60" x2="183.90" y2="766.60" stroke="#050505" stroke-width="1.6"/>
<rect x="189.30" y="782.80" width="7.80" height="17.30" fill="#a09ea3"/>
<line x1="193.20" y1="782.80" x2="193.20" y2="774.50" stroke="#a6a4a8" stroke-width="1.6"/>
<line x1="191.50" y1="774.50" x2="194.90" y2="774.50" stroke="#a6a4a8" stroke-width="1.6"/>
<rect x="219.20" y="774.40" width="7.80" height="25.70" fill="#050505"/>
<line x1="223.10" y1="774.40" x2="223.10" y2="768.40" stroke="#050505" stroke-width="1.6"/>
<line x1="221.40" y1="768.40" x2="224.80" y2="768.40" stroke="#050505" stroke-width="1.6"/>
<rect x="230.20" y="772.80" width="7.80" height="27.30" fill="#a09ea3"/>
<line x1="234.10" y1="772.80" x2="234.10" y2="762.80" stroke="#a6a4a8" stroke-width="1.6"/>
<line x1="232.40" y1="762.80" x2="235.80" y2="762.80" stroke="#a6a4a8" stroke-width="1.6"/>
<rect x="260.30" y="774.40" width="7.80" height="25.70" fill="#050505"/>
<line x1="264.20" y1="774.40" x2="264.20" y2="757.60" stroke="#050505" stroke-width="1.6"/>
<line x1="262.50" y1="757.60" x2="265.90" y2="757.60" stroke="#050505" stroke-width="1.6"/>
<rect x="271.30" y="791.00" width="7.80" height="9.10" fill="#a09ea3"/>
<line x1="275.20" y1="791.00" x2="275.20" y2="787.20" stroke="#a6a4a8" stroke-width="1.6"/>
<line x1="273.50" y1="787.20" x2="276.90" y2="787.20" stroke="#a6a4a8" stroke-width="1.6"/>
<rect x="159.30" y="747.80" width="7.80" height="52.30" fill="#0896b4"/>
<rect x="159.30" y="676.40" width="7.80" height="62.20" fill="#0896b4"/>
<line x1="163.20" y1="676.40" x2="163.20" y2="656.00" stroke="#0896b4" stroke-width="1.6"/>
<line x1="161.50" y1="656.00" x2="164.90" y2="656.00" stroke="#0896b4" stroke-width="1.6"/>
<text x="160.60" y="640.64" font-size="6.81" text-anchor="middle" fill="#050505" stroke="#050505" stroke-width="0.41" stroke-linejoin="round" font-family="DejaVu Sans, sans-serif">&#9733;</text>
<text x="160.60" y="647.24" font-size="6.81" text-anchor="middle" fill="#050505" stroke="#050505" stroke-width="0.41" stroke-linejoin="round" font-family="DejaVu Sans, sans-serif">&#9733;</text>
<text x="160.60" y="653.84" font-size="6.81" text-anchor="middle" fill="#050505" stroke="#050505" stroke-width="0.41" stroke-linejoin="round" font-family="DejaVu Sans, sans-serif">&#9733;</text>
<text x="167.20" y="640.64" font-size="6.81" text-anchor="middle" fill="#b2b2b2" stroke="#b2b2b2" stroke-width="0.41" stroke-linejoin="round" font-family="DejaVu Sans, sans-serif">&#9733;</text>
<text x="167.20" y="647.24" font-size="6.81" text-anchor="middle" fill="#b2b2b2" stroke="#b2b2b2" stroke-width="0.41" stroke-linejoin="round" font-family="DejaVu Sans, sans-serif">&#9733;</text>
<text x="167.20" y="653.84" font-size="6.81" text-anchor="middle" fill="#b2b2b2" stroke="#b2b2b2" stroke-width="0.41" stroke-linejoin="round" font-family="DejaVu Sans, sans-serif">&#9733;</text>
<rect x="200.30" y="747.80" width="7.80" height="52.30" fill="#0896b4"/>
<rect x="200.30" y="705.00" width="7.80" height="33.60" fill="#0896b4"/>
<line x1="204.20" y1="705.00" x2="204.20" y2="696.00" stroke="#0896b4" stroke-width="1.6"/>
<line x1="202.50" y1="696.00" x2="205.90" y2="696.00" stroke="#0896b4" stroke-width="1.6"/>
<text x="201.60" y="675.54" font-size="6.81" text-anchor="middle" fill="#050505" stroke="#050505" stroke-width="0.41" stroke-linejoin="round" font-family="DejaVu Sans, sans-serif">&#9733;</text>
<text x="201.60" y="682.14" font-size="6.81" text-anchor="middle" fill="#050505" stroke="#050505" stroke-width="0.41" stroke-linejoin="round" font-family="DejaVu Sans, sans-serif">&#9733;</text>
<text x="201.60" y="688.74" font-size="6.81" text-anchor="middle" fill="#050505" stroke="#050505" stroke-width="0.41" stroke-linejoin="round" font-family="DejaVu Sans, sans-serif">&#9733;</text>
<text x="201.60" y="695.34" font-size="6.81" text-anchor="middle" fill="#050505" stroke="#050505" stroke-width="0.41" stroke-linejoin="round" font-family="DejaVu Sans, sans-serif">&#9733;</text>
<text x="208.20" y="675.54" font-size="6.81" text-anchor="middle" fill="#b2b2b2" stroke="#b2b2b2" stroke-width="0.41" stroke-linejoin="round" font-family="DejaVu Sans, sans-serif">&#9733;</text>
<text x="208.20" y="682.14" font-size="6.81" text-anchor="middle" fill="#b2b2b2" stroke="#b2b2b2" stroke-width="0.41" stroke-linejoin="round" font-family="DejaVu Sans, sans-serif">&#9733;</text>
<text x="208.20" y="688.74" font-size="6.81" text-anchor="middle" fill="#b2b2b2" stroke="#b2b2b2" stroke-width="0.41" stroke-linejoin="round" font-family="DejaVu Sans, sans-serif">&#9733;</text>
<text x="208.20" y="695.34" font-size="6.81" text-anchor="middle" fill="#b2b2b2" stroke="#b2b2b2" stroke-width="0.41" stroke-linejoin="round" font-family="DejaVu Sans, sans-serif">&#9733;</text>
<rect x="241.20" y="747.80" width="7.80" height="52.30" fill="#0896b4"/>
<rect x="241.20" y="714.40" width="7.80" height="24.20" fill="#0896b4"/>
<line x1="245.10" y1="714.40" x2="245.10" y2="704.20" stroke="#0896b4" stroke-width="1.6"/>
<line x1="243.40" y1="704.20" x2="246.80" y2="704.20" stroke="#0896b4" stroke-width="1.6"/>
<text x="242.50" y="696.44" font-size="6.81" text-anchor="middle" fill="#050505" stroke="#050505" stroke-width="0.41" stroke-linejoin="round" font-family="DejaVu Sans, sans-serif">&#9733;</text>
<text x="242.50" y="703.04" font-size="6.81" text-anchor="middle" fill="#050505" stroke="#050505" stroke-width="0.41" stroke-linejoin="round" font-family="DejaVu Sans, sans-serif">&#9733;</text>
<text x="249.10" y="696.44" font-size="6.81" text-anchor="middle" fill="#b2b2b2" stroke="#b2b2b2" stroke-width="0.41" stroke-linejoin="round" font-family="DejaVu Sans, sans-serif">&#9733;</text>
<text x="249.10" y="703.04" font-size="6.81" text-anchor="middle" fill="#b2b2b2" stroke="#b2b2b2" stroke-width="0.41" stroke-linejoin="round" font-family="DejaVu Sans, sans-serif">&#9733;</text>
<rect x="282.30" y="747.80" width="7.80" height="52.30" fill="#0896b4"/>
<rect x="282.30" y="712.40" width="7.80" height="26.20" fill="#0896b4"/>
<line x1="286.20" y1="712.40" x2="286.20" y2="704.80" stroke="#0896b4" stroke-width="1.6"/>
<line x1="284.50" y1="704.80" x2="287.90" y2="704.80" stroke="#0896b4" stroke-width="1.6"/>
<text x="283.60" y="683.34" font-size="6.81" text-anchor="middle" fill="#050505" stroke="#050505" stroke-width="0.41" stroke-linejoin="round" font-family="DejaVu Sans, sans-serif">&#9733;</text>
<text x="283.60" y="689.94" font-size="6.81" text-anchor="middle" fill="#050505" stroke="#050505" stroke-width="0.41" stroke-linejoin="round" font-family="DejaVu Sans, sans-serif">&#9733;</text>
<text x="283.60" y="696.54" font-size="6.81" text-anchor="middle" fill="#050505" stroke="#050505" stroke-width="0.41" stroke-linejoin="round" font-family="DejaVu Sans, sans-serif">&#9733;</text>
<text x="283.60" y="703.14" font-size="6.81" text-anchor="middle" fill="#050505" stroke="#050505" stroke-width="0.41" stroke-linejoin="round" font-family="DejaVu Sans, sans-serif">&#9733;</text>
<text x="290.20" y="689.94" font-size="6.81" text-anchor="middle" fill="#b2b2b2" stroke="#b2b2b2" stroke-width="0.41" stroke-linejoin="round" font-family="DejaVu Sans, sans-serif">&#9733;</text>
<text x="290.20" y="696.54" font-size="6.81" text-anchor="middle" fill="#b2b2b2" stroke="#b2b2b2" stroke-width="0.41" stroke-linejoin="round" font-family="DejaVu Sans, sans-serif">&#9733;</text>
<text x="290.20" y="703.14" font-size="6.81" text-anchor="middle" fill="#b2b2b2" stroke="#b2b2b2" stroke-width="0.41" stroke-linejoin="round" font-family="DejaVu Sans, sans-serif">&#9733;</text>
<text x="0.00" y="0.00" font-size="12.4" font-weight="bold" text-anchor="middle" fill="#000" transform="translate(53.40,720.30) rotate(-90)">human CYP46A1 level</text>
<text x="0.00" y="0.00" font-size="12.2" font-weight="bold" text-anchor="middle" fill="#000" transform="translate(68.40,720.20) rotate(-90)">(Fold vs ctrl)</text>
<text x="0.00" y="0.00" font-size="11.0" font-weight="bold" text-anchor="end" fill="#000" transform="translate(156.30,814.80) rotate(-45)">Cortex</text>
<text x="0.00" y="0.00" font-size="11.0" font-weight="bold" text-anchor="end" fill="#000" transform="translate(197.30,814.80) rotate(-45)">Remaining brain</text>
<text x="0.00" y="0.00" font-size="11.0" font-weight="bold" text-anchor="end" fill="#000" transform="translate(238.20,814.80) rotate(-45)">Cerebellum</text>
<text x="0.00" y="0.00" font-size="11.0" font-weight="bold" text-anchor="end" fill="#000" transform="translate(279.30,814.80) rotate(-45)">Pons</text>
</svg>
</body></html>
